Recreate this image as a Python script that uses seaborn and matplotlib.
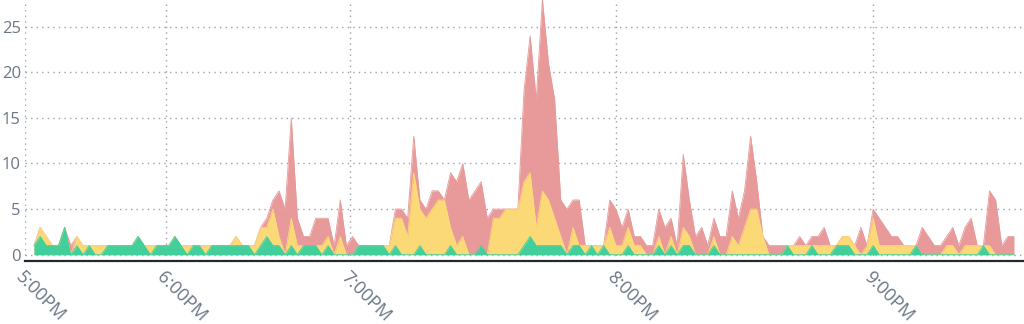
import matplotlib
matplotlib.use("Agg")
import matplotlib.pyplot as plt
import numpy as np
import pandas as pd
import seaborn as sns

# ---- data (one value per time bucket, ordinal x axis) ----
red = [1, 3, 2, 1, 1, 3, 1, 2, 1, 1, 1, 1, 1, 1, 1, 1, 1, 2, 1, 1,
       1, 1, 1, 2, 1, 1, 1, 1, 1, 1, 1, 1, 1, 2, 1, 1, 1, 3, 4, 6,
       7, 5, 15, 4, 2, 2, 4, 4, 4, 1, 6, 1, 2, 1, 1, 1, 1, 1, 1, 5,
       5, 4, 13, 6, 5, 7, 7, 6, 9, 8, 10, 6, 7, 8, 4, 5, 5, 5, 5, 5,
       18, 24, 17, 28, 21, 17, 6, 5, 6, 6, 1, 1, 1, 1, 6, 5, 3, 5, 2, 2,
       1, 1, 5, 3, 4, 1, 11, 6, 2, 3, 1, 4, 2, 2, 7, 4, 7, 13, 8, 2,
       1, 1, 1, 1, 1, 2, 1, 2, 2, 3, 1, 1, 2, 2, 1, 3, 1, 5, 4, 3,
       2, 2, 1, 1, 1, 3, 2, 1, 1, 2, 3, 1, 3, 4, 1, 1, 7, 6, 1, 2, 2]
yellow = [1, 3, 2, 1, 1, 3, 0, 2, 1, 1, 1, 1, 1, 1, 1, 1, 1, 2, 1, 1,
          1, 1, 1, 2, 1, 1, 1, 1, 1, 1, 1, 1, 1, 2, 1, 1, 1, 3, 3, 5,
          2, 0, 4, 1, 1, 1, 1, 1, 2, 0, 2, 0, 0, 1, 1, 1, 1, 1, 1, 4,
          4, 2, 9, 5, 4, 5, 6, 6, 3, 1, 2, 0, 0, 0, 0, 4, 4, 5, 5, 5,
          8, 9, 3, 7, 6, 4, 2, 0, 3, 1, 1, 1, 1, 1, 3, 1, 1, 3, 1, 1,
          0, 0, 2, 0, 2, 0, 3, 2, 0, 0, 0, 2, 0, 0, 2, 1, 3, 5, 5, 2,
          0, 0, 0, 1, 1, 1, 1, 1, 1, 1, 1, 1, 2, 2, 1, 0, 1, 4, 1, 1,
          1, 1, 1, 1, 1, 0, 0, 0, 0, 1, 1, 0, 1, 1, 1, 1, 1, 0, 0, 0, 0]
green = [1, 2, 1, 1, 1, 3, 0, 1, 0, 1, 0, 0, 1, 1, 1, 1, 1, 2, 1, 0,
         1, 1, 1, 2, 1, 0, 1, 1, 0, 1, 1, 1, 1, 1, 1, 1, 0, 1, 2, 1,
         1, 0, 1, 0, 1, 1, 1, 0, 1, 0, 0, 0, 0, 1, 1, 1, 1, 1, 0, 1,
         0, 0, 0, 1, 0, 0, 0, 0, 1, 0, 0, 0, 0, 1, 0, 0, 0, 0, 0, 0,
         1, 2, 1, 1, 1, 1, 1, 0, 1, 1, 0, 1, 0, 1, 0, 0, 0, 1, 0, 0,
         0, 0, 1, 0, 1, 0, 1, 1, 0, 0, 0, 1, 0, 0, 0, 0, 0, 0, 0, 0,
         0, 0, 0, 1, 0, 0, 0, 1, 0, 0, 0, 1, 1, 1, 0, 0, 0, 1, 0, 0,
         0, 0, 0, 0, 1, 0, 0, 0, 0, 0, 0, 0, 0, 0, 0, 1, 0, 0, 0, 0, 0]
hour_labels = ["5:00PM", "6:00PM", "7:00PM", "8:00PM", "9:00PM"]
hour_index = [-1.47, 21.55, 51.67, 94.97, 136.98]   # bucket position of each hour
y_ticks = [0, 5, 10, 15, 20, 25]

sns.set_theme(style="white")
plt.rcParams["font.family"] = ["Open Sans", "DejaVu Sans"]

idx = np.arange(len(red))
df = pd.DataFrame({"idx": idx, "red": red, "yellow": yellow, "green": green})

fig = plt.figure(figsize=(10.24, 3.24), dpi=100)
W, H = 1024, 324
ax = fig.add_axes([25 / W, 1 - 260.7 / H, 1 - 25 / W, 260.7 / H])

colors = {"red": "#e89a9a", "yellow": "#fbd977", "green": "#43cf9c"}
for i, name in enumerate(["red", "yellow", "green"]):
    ax.fill_between(df["idx"], 0, df[name], color=colors[name], lw=0, zorder=3 + i)
    sns.lineplot(data=df, x="idx", y=name, color=colors[name], lw=0.6, ax=ax, zorder=3 + i)

ax.set_xlim(-1.47, (W - 34) / 6.125)
ax.set_ylim(-0.66, 27.93)
ax.set_xlabel("")
ax.set_ylabel("")

ax.set_xticks(hour_index)
ax.set_xticklabels(hour_labels, rotation=-45, ha="left", va="top",
                   rotation_mode="anchor", fontsize=13)
ax.set_yticks(y_ticks)
ax.set_yticklabels([str(v) for v in y_ticks], fontsize=12)
ax.tick_params(axis="both", length=0, colors="#6b7686")
ax.tick_params(axis="y", pad=3)
ax.tick_params(axis="x", pad=5)

ax.grid(True, axis="both", color="#9ba1aa", linestyle=(0, (1, 3)), linewidth=1.0)
ax.set_axisbelow(True)
for s in ["top", "right", "left"]:
    ax.spines[s].set_visible(False)
ax.spines["bottom"].set_color("#23272e")
ax.spines["bottom"].set_linewidth(1.6)
ax.spines["bottom"].set_zorder(10)

fig.savefig("out.png", dpi=100)
